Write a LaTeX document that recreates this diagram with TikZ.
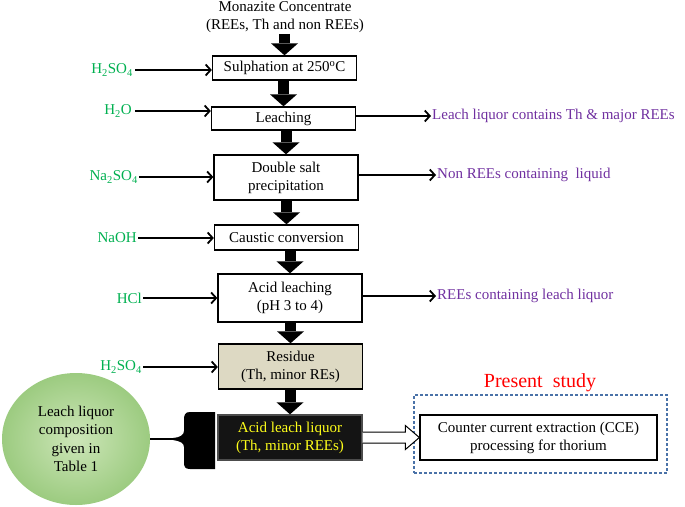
\documentclass[tikz,border=0pt]{standalone}
\usepackage{fontspec}
\setmainfont{Liberation Serif}
\usetikzlibrary{arrows.meta,shapes.geometric,positioning}
\definecolor{feedgreen}{HTML}{00B050}
\definecolor{outpurple}{HTML}{7030A0}
\definecolor{residuetan}{HTML}{DDD9C3}
\definecolor{liquorfill}{HTML}{141414}
\definecolor{liquortext}{HTML}{FFFF1A}
\definecolor{studyblue}{HTML}{4A72A8}
\definecolor{leafinner}{HTML}{CDE6B8}
\definecolor{leafouter}{HTML}{9CCB80}
\tikzset{
  process/.style={draw, line width=1.3pt, minimum width=144pt, align=center, inner sep=2pt, font=\fontsize{15}{18}\selectfont},
  reagent/.style={text=feedgreen, anchor=east, inner sep=1pt, font=\fontsize{15}{18}\selectfont},
  product/.style={text=outpurple, anchor=west, inner sep=1pt, font=\fontsize{15}{18}\selectfont},
  feed/.style={line width=1.8pt, -{Straight Barb[length=5pt,width=11pt]}},
  blockarrow/.style={line width=11pt, -{Triangle[length=12pt,width=27pt,line width=0pt]}}
}

\begin{document}
\begin{tikzpicture}[x=1pt,y=-1pt]
  \useasboundingbox (0,0) rectangle (685,506);
  \node[align=center, inner sep=1pt, font=\fontsize{15}{18}\selectfont] (monazite) at (285,17) {Monazite Concentrate\\(REEs, Th and non REEs)};
  \node[process, minimum height=24pt] (sulph) at (284.5,68) {Sulphation at 250\textsuperscript{o}C};
  \node[process, minimum height=23pt] (leach) at (283.5,118.5) {Leaching};
  \node[process, minimum height=45pt] (dsalt) at (286,177.5) {Double salt\\precipitation};
  \node[process, minimum height=25pt] (caustic) at (286.5,237.5) {Caustic conversion};
  \node[process, minimum height=48pt] (acidl) at (290,298) {Acid leaching\\(pH 3 to 4)};
  \node[process, minimum height=45pt, fill=residuetan] (resid) at (290.5,366.5) {Residue\\(Th, minor REs)};
  \node[process, minimum height=45pt, fill=liquorfill, text=liquortext, draw=black!70] (liquor) at (290,437.5) {Acid leach liquor\\(Th, minor REEs)};

  \node[draw=studyblue, dashed, dash pattern=on 3pt off 2pt, line width=1.2pt, minimum width=253pt, minimum height=78pt] (study) at (540.5,434) {};
  \node[text=red, inner sep=1pt, font=\fontsize{20}{24}\selectfont] (studylabel) at (540,383) {Present\ \ study};
  \node[process, minimum width=237pt, minimum height=45pt] (cce) at (538.5,437.5) {Counter current extraction (CCE)\\processing for thorium};

  \node[ellipse, minimum width=148pt, minimum height=132pt, inner sep=0pt, inner color=leafinner, outer color=leafouter, align=center, font=\fontsize{15}{18.5}\selectfont] (compo) at (76,439) {Leach liquor\\composition\\given in\\Table 1};

  \node[reagent] (h2so4a) at (134,70) {H\textsubscript{2}SO\textsubscript{4}};
  \node[reagent] (h2o) at (133,111) {H\textsubscript{2}O};
  \node[reagent] (na2so4) at (139,177) {Na\textsubscript{2}SO\textsubscript{4}};
  \node[reagent] (naoh) at (138,238) {NaOH};
  \node[reagent] (hcl) at (143,298) {HCl};
  \node[reagent] (h2so4b) at (143,367) {H\textsubscript{2}SO\textsubscript{4}};

  \node[product] (out1) at (431,116) {Leach liquor contains Th \& major REEs};
  \node[product] (out2) at (436,175) {Non REEs containing\ \ liquid};
  \node[product] (out3) at (436,296) {REEs containing leach liquor};

  \draw[blockarrow] (sulph.north |- monazite.south) -- (sulph.north);
  \draw[blockarrow] (sulph.south -| leach.north) -- (leach.north);
  \draw[blockarrow] (leach.south -| dsalt.north) -- (dsalt.north);
  \draw[blockarrow] (dsalt.south -| caustic.north) -- (caustic.north);
  \draw[blockarrow] (caustic.south -| acidl.north) -- (acidl.north);
  \draw[blockarrow] (acidl.south -| resid.north) -- (resid.north);
  \draw[blockarrow] (resid.south -| liquor.north) -- (liquor.north);

  \draw[feed] ([xshift=1pt]h2so4a.east) -- (h2so4a.east -| sulph.west);
  \draw[feed] ([xshift=2pt]h2o.east) -- (h2o.east -| leach.west);
  \draw[feed] (na2so4.east) -- (na2so4.east -| dsalt.west);
  \draw[feed] (naoh.east) -- (naoh.east -| caustic.west);
  \draw[feed] (hcl.east) -- (hcl.east -| acidl.west);
  \draw[feed] (h2so4b.east) -- (h2so4b.east -| resid.west);

  \draw[feed] (out1.west -| leach.east) -- (out1.west);
  \draw[feed] (out2.west -| dsalt.east) -- (out2.west);
  \draw[feed] (out3.west -| acidl.east) -- (out3.west);

  \draw[line width=1pt, fill=white] ([yshift=5.5pt]liquor.east) -- ([xshift=-14pt,yshift=5.5pt]cce.west) -- ([xshift=-14pt,yshift=12pt]cce.west) -- (cce.west) -- ([xshift=-14pt,yshift=-12pt]cce.west) -- ([xshift=-14pt,yshift=-5.5pt]cce.west) -- ([yshift=-5.5pt]liquor.east);

  \coordinate (brace) at (174,439);
  \fill (215,412) -- (190,412) .. controls (185,412) and (184,415) .. (184,420) -- (184,431) .. controls (184,435) and (180,437.5) .. (173,438) -- (173,440) .. controls (180,441) and (184,443) .. (184,447) -- (184,462) .. controls (184,467) and (185,469) .. (190,469) -- (215,469) -- cycle;
  \draw[line width=1.5pt] (compo.east) -- (brace);
\end{tikzpicture}
\end{document}
